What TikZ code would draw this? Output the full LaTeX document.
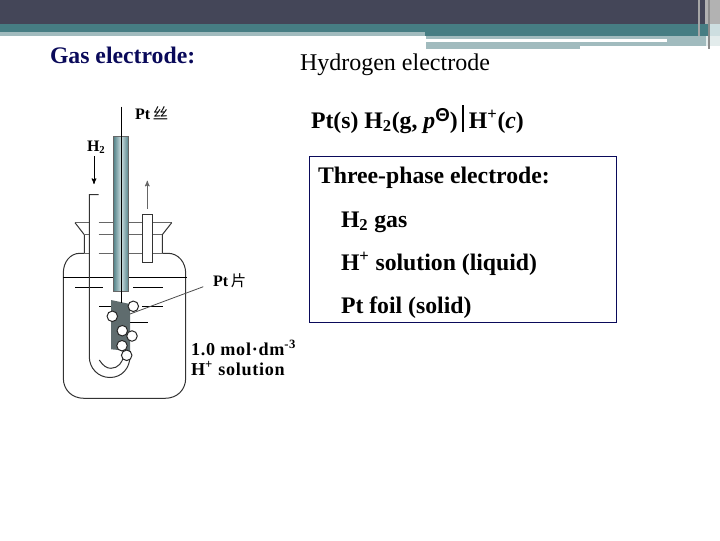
\documentclass[tikz,border=0pt]{standalone}
\usepackage{fontspec}
\setmainfont{Liberation Serif}
\newfontfamily\cjk{Noto Sans CJK SC}
\newfontfamily\symfont{Liberation Sans}
\newfontfamily\spaced[LetterSpace=4]{Liberation Serif}
\usetikzlibrary{arrows, positioning, calc}
\definecolor{bardark}{RGB}{68,70,88}
\definecolor{barteal}{RGB}{70,125,131}
\definecolor{barlight}{RGB}{161,187,190}
\definecolor{navytext}{RGB}{10,10,90}
\definecolor{foil}{RGB}{95,108,110}
\definecolor{tubeedge}{RGB}{80,128,134}
\definecolor{tubemid}{RGB}{205,222,224}
\begin{document}
\begin{tikzpicture}[
  x=0.75pt,y=-0.75pt,
  every node/.style={inner sep=0pt,outer sep=0pt,anchor=base west},
  title/.style={font=\fontsize{18}{20}\selectfont},
  boldtitle/.style={font=\fontsize{17.8}{20}\selectfont\bfseries},
  label/.style={font=\fontsize{12}{14}\selectfont\bfseries},
  biglabel/.style={font=\fontsize{13.6}{16}\selectfont\bfseries},
  glass/.style={draw=black!80,line width=0.75pt},
  grayglass/.style={draw=black!60,line width=1.1pt},
  level/.style={draw=black,line width=0.75pt},
  bubble/.style={draw=black!85,fill=white,line width=0.75pt,circle,minimum size=10.5*0.75pt,anchor=center},
  to/.style={->,>=stealth',semithick}]

  \useasboundingbox (0,0) rectangle (720,540);

  % Banner
  \fill[bardark] (0,0) rectangle (720,24);
  \fill[barteal] (0,24) rectangle (720,36);
  \fill[barlight] (0,32) rectangle (425,36);
  \fill[barlight] (426,36) rectangle (706,46);
  \fill[barlight] (426,46) rectangle (580,49);
  \fill[white] (426,39) rectangle (667,42);
  \fill[black!30] (710,0) rectangle (720,24);
  \fill[tubemid] (710,24) rectangle (720,36);
  \fill[barteal!15] (706,36) rectangle (720,46);
  \fill[black!35] (698,0) rectangle (700,36);
  \fill[black!30] (705,0) rectangle (708,24);
  \fill[black!45] (708,0) rectangle (710,49);

  % Texts
  \node[boldtitle,text=navytext] (gas) at (50,63) {Gas electrode:};
  \node[title] (hydrogen) at (300,70) {Hydrogen electrode};
  \node[boldtitle] (notation) at (311,128) {Pt(s) H\textsubscript{2}(g, \textit{p}\raisebox{5pt}{\symfont\fontsize{14}{14}\selectfont Θ})\hspace{3pt}\rule[-3pt]{1.4pt}{20pt}\hspace{4pt}H\textsuperscript{+}(\textit{c})};

  % Three-phase box
  \draw[draw=navytext,line width=0.7pt] (309,156) rectangle (616,322);
  \node[boldtitle] (phase) at (318,183) {Three-phase electrode:};
  \node[boldtitle] (gasphase) at (341,227) {H\textsubscript{2} gas};
  \node[boldtitle] (liquid) at (341,270) {H\textsuperscript{+} solution (liquid)};
  \node[boldtitle] (solid) at (341,313) {Pt foil (solid)};

  % Bottle
  \draw[glass] (84.3,253.3) -- (80,253.3) .. controls (70,253.3) and (63.3,262) .. (63.3,273.3)
    -- (63.3,378) .. controls (63.3,390) and (72,398.3) .. (84,398.3)
    -- (165,398.3) .. controls (177,398.3) and (185.7,390) .. (185.7,378)
    -- (185.7,273.3) .. controls (185.7,262) and (178,253.3) .. (168,253.3) -- (162.3,253.3);
  \draw[level] (63.3,277.3) -- (187,277.3);

  % Stopper
  \draw[grayglass] (75,222.7) -- (89.3,222.7) (98.7,222.7) -- (113.3,222.7) (128.7,222.7) -- (142.3,222.7) (152.7,222.7) -- (171.7,222.7);
  \draw[glass] (75,222.7) -- (84.3,234.7) -- (84.3,253.3) (171.7,222.7) -- (162.3,234.7) -- (162.3,253.3);
  \draw[grayglass] (84.3,234.7) -- (89.3,234.7) (98.7,234.7) -- (113.3,234.7) (128.7,234.7) -- (142.3,234.7) (152.7,234.7) -- (162.3,234.7);
  \draw[grayglass] (84.3,253.3) -- (89.3,253.3) (98.7,253.3) -- (113.3,253.3) (128.7,253.3) -- (142.3,253.3) (152.7,253.3) -- (162.3,253.3);

  % Solution marks
  \draw[level] (75,287.3) -- (103.3,287.3) (133.3,287.3) -- (162.7,287.3);
  \draw[level] (99.3,306.7) -- (111.7,306.7) (142.3,306.7) -- (162.7,306.7);
  \draw[level] (130,322.7) -- (148.3,322.7);

  % Gas inlet
  \draw[glass] (98.7,194.7) -- (89.3,194.7) -- (89.3,356.7) .. controls (89.3,368) and (98,377.5) .. (110,377.5)
    .. controls (122,377.5) and (130,368) .. (130,356);
  \draw[glass] (99.3,360) .. controls (103,366) and (107,368.3) .. (111,368.3)
    .. controls (118,368.3) and (123,362) .. (123.3,356);

  % Gas outlet
  \draw[glass,fill=white] (142.3,214) rectangle (152.7,262.3);
  \coordinate (outlet) at (147.3,209);
  \coordinate (outlettop) at (147.3,180.7);
  \draw[to,draw=black!60] (outlet) -- (outlettop);

  % Pt foil and wire
  \fill[foil] (111,300) -- (130,304) -- (130,351) -- (111,349.3) -- cycle;
  \shade[left color=tubeedge,right color=tubeedge,middle color=tubemid] (113.3,136.7) rectangle (128.7,291);
  \draw[black!60,line width=0.4pt] (113.3,136.7) rectangle (128.7,291);
  \draw[black,line width=0.6pt] (121.7,106.7) -- (121.7,303);

  % Bubbles
  \foreach \name/\bx/\by in {a/133.3/306.3,b/112.3/316.3,c/122.3/330.7,d/132/336,e/122/345.7,f/126.7/355.3}
    \node[bubble] (bubble\name) at (\bx,\by) {};

  % Labels
  \node[label] (ptwire) at (135,119) {Pt\,{\cjk\mdseries\fontsize{11.5}{13}\selectfont 丝}};
  \node[label] (htwo) at (87,151) {H\textsubscript{2}};
  \node[label] (ptfoil) at (213,286) {Pt\,{\cjk\mdseries\fontsize{11.5}{13}\selectfont 片}};
  \node[biglabel] (conc) at (191,355) {\spaced\bfseries 1.0 mol·dm\textsuperscript{-3}};
  \node[biglabel] (hsol) at (191,375) {\spaced\bfseries H\textsuperscript{+} solution};

  \coordinate (inlet) at (94,184);
  \coordinate (inlettop) at (94,156);
  \draw[to,draw=black] (inlettop) -- (inlet);
  \coordinate (foilpoint) at (130,314);
  \coordinate (foilend) at (203.3,286.7);
  \draw[draw=black!70,line width=0.6pt] (foilend) -- (foilpoint);
\end{tikzpicture}
\end{document}
